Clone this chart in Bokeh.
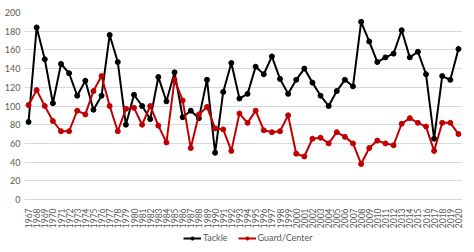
import math
from bokeh.plotting import figure
from bokeh.layouts import column
from bokeh.models import Legend, LegendItem, FactorRange, Range1d, SingleIntervalTicker
from bokeh.embed import file_html
from bokeh.resources import INLINE

years = [str(y) for y in range(1967, 2021)]
tackle = [83, 184, 150, 103, 145, 135, 111, 127, 96, 111,
          176, 147, 80, 112, 100, 86, 131, 105, 136, 88,
          95, 87, 128, 50, 115, 146, 108, 113, 142, 134,
          153, 129, 113, 128, 140, 125, 111, 100, 116, 128,
          121, 190, 169, 147, 152, 156, 181, 152, 158, 134,
          65, 132, 128, 161]
guard_center = [101, 117, 100, 84, 73, 73, 95, 91, 116, 132,
                100, 73, 97, 98, 80, 100, 79, 61, 128, 106,
                55, 91, 99, 76, 75, 52, 92, 82, 95, 74,
                72, 73, 90, 49, 46, 65, 66, 60, 72, 67,
                60, 38, 55, 63, 60, 58, 81, 87, 82, 78,
                52, 82, 82, 70]
series_names = ["Tackle", "Guard/Center"]

FONT = "Lato"
TXT = "#595959"
BLACK = "black"
RED = "#c00000"

p = figure(width=474, height=231, x_range=FactorRange(*years, range_padding=0),
           y_range=Range1d(0, 200), output_backend="svg", toolbar_location=None,
           min_border_left=24, min_border_right=12, min_border_top=12, min_border_bottom=30)
p.outline_line_color = None
p.background_fill_color = "white"

p.yaxis.ticker = SingleIntervalTicker(interval=20)
p.ygrid.grid_line_color = "#d9d9d9"
p.xgrid.grid_line_color = None
for ax in (p.xaxis[0], p.yaxis[0]):
    ax.major_tick_line_color = None
    ax.minor_tick_line_color = None
    ax.major_tick_out = 0
    ax.major_tick_in = 0
    ax.minor_tick_out = 0
    ax.minor_tick_in = 0
    ax.major_label_text_color = TXT
    ax.major_label_text_font = FONT
p.yaxis.axis_line_color = None
p.xaxis.axis_line_color = "#d9d9d9"
p.yaxis.major_label_text_font_size = "9px"
p.yaxis.major_label_standoff = 4
p.xaxis.major_label_text_font_size = "8.5px"
p.xaxis.major_label_orientation = math.pi / 2
p.xaxis.major_label_standoff = 9

p.line(years, tackle, line_color=BLACK, line_width=2)
p.scatter(years, tackle, size=5, color=BLACK)
p.line(years, guard_center, line_color=RED, line_width=2)
p.scatter(years, guard_center, size=5, color=RED)

# legend strip below the chart
lf = figure(width=474, height=21, x_range=Range1d(0, 1), y_range=Range1d(0, 1),
            output_backend="svg", toolbar_location=None,
            min_border_left=0, min_border_right=0, min_border_top=0, min_border_bottom=0)
lf.axis.visible = False
lf.grid.visible = False
lf.outline_line_color = None
off = [-10, -9]
ll1 = lf.line(off, off, line_color=BLACK, line_width=2)
ls1 = lf.scatter(off, off, size=5, color=BLACK)
ll2 = lf.line(off, off, line_color=RED, line_width=2)
ls2 = lf.scatter(off, off, size=5, color=RED)
legend = Legend(items=[LegendItem(label=series_names[0], renderers=[ll1, ls1]),
                       LegendItem(label=series_names[1], renderers=[ll2, ls2])],
                orientation="horizontal", location=(159, 9),
                label_text_font=FONT, label_text_font_size="9px", label_text_color=TXT,
                glyph_width=18, glyph_height=8, label_standoff=2, spacing=10,
                label_height=10, padding=0, margin=0, background_fill_alpha=0,
                border_line_color=None)
lf.add_layout(legend, "center")

layout = column(p, lf, spacing=0)
open("out.html", "w").write(file_html(layout, INLINE))
